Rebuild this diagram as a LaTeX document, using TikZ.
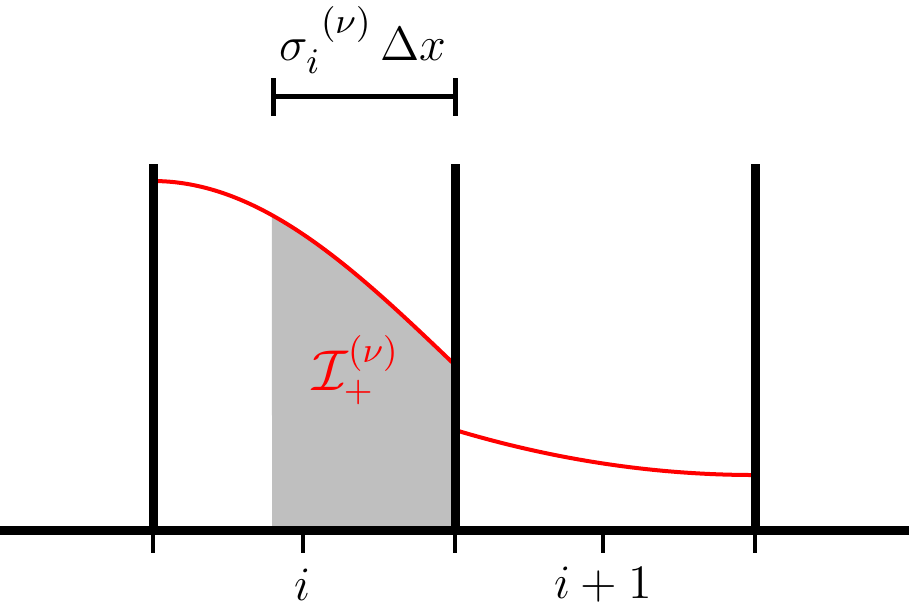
\documentclass[tikz,border=0pt]{standalone}
\usepackage{amsmath}
\begin{document}
\begin{tikzpicture}[x=0.25pt,y=-0.25pt,
  thick line/.style={line width=2.25pt},
  tick line/.style={line width=1pt},
  red curve/.style={red,line width=1pt},
  lbl/.style={font=\fontsize{12}{14}\selectfont, inner sep=0pt}]
\useasboundingbox (0,0) rectangle (909,604);
\definecolor{areagray}{gray}{0.75}
% shaded area
\fill[areagray] (272,530) -- plot[variable=\t,domain=0.394:1,samples=50] ({153+302*\t},{181+184*(1-cos(90*\t))}) -- (455,530) -- cycle;
% red curves
\draw[red curve] plot[variable=\t,domain=0:1,samples=80] ({153+302*\t},{181+184*(1-cos(90*\t))});
\draw[red curve] plot[variable=\t,domain=0:1,samples=60] ({455+300*\t},{475-45*(1-\t)*(1-\t)});
% vertical lines
\foreach \xx in {153,455,755} \draw[thick line] (\xx,164) -- (\xx,530);
% axis
\draw[thick line] (0,530) -- (909,530);
\foreach \xx in {153,303,455,603,755} \draw[tick line] (\xx,530) -- (\xx,553);
% labels
\node[lbl] (li) at (303,585) {$i$};
\node[lbl] (lip) at (603,585) {$i+1$};
\node[lbl,red,font=\fontsize{13.5}{16}\selectfont] (lI) at (356,370) {$\mathcal{I}_+^{(\nu)}$};
% bracket
\draw[line width=1.25pt] (273,96) -- (455,96);
\draw[line width=1.25pt] (273,78) -- (273,116);
\draw[line width=1.25pt] (455,78) -- (455,116);
\node[lbl,font=\fontsize{12.5}{15}\selectfont] (ls) at (363,40) {$\sigma_{\raisebox{-1.5pt}{$\scriptstyle i$}}{}^{\raisebox{2.5pt}{$\scriptstyle(\nu)$}}\,\Delta x$};
\end{tikzpicture}
\end{document}
